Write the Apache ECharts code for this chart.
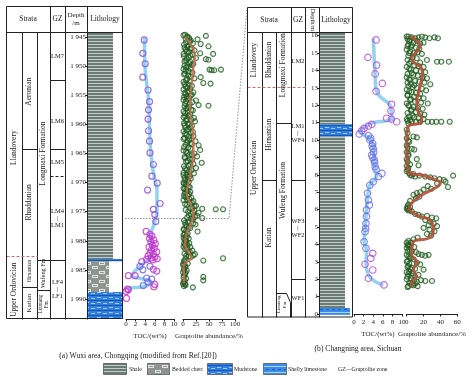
<!DOCTYPE html>
<html>
<head>
<meta charset="utf-8">
<script src="https://cdn.jsdelivr.net/npm/echarts@6/dist/echarts.min.js"></script>
<style>
  html, body { margin: 0; padding: 0; background: #fff; }
  #chart { width: 474px; height: 377px; }
</style>
</head>
<body>
<div id="chart"></div>
<script>
// ---- data: (a) Wuxi, depth in m ----
var depthTicksA = [1945, 1950, 1955, 1960, 1965, 1970, 1975, 1980, 1985, 1990];
var tocA = [
  [3.8,1945.5],[3.5,1947.8],[4.0,1949.6],[3.5,1951.9],[4.6,1954.1],[4.9,1956.1],[4.7,1957.5],
  [4.6,1959.1],[4.7,1961.1],[4.9,1962.9],[5.0,1964.9],[5.7,1966.9],[5.4,1968.9],[6.5,1970.1],
  [4.5,1971.3],[7.1,1973.6],[5.7,1974.6],[6.0,1975.5],[6.2,1976.7],[4.2,1978.4],
  [5.0,1978.9],[5.4,1979.2],[4.9,1979.6],[5.8,1979.9],[5.2,1980.2],[6.1,1980.5],[5.5,1980.8],
  [4.8,1981.1],[5.9,1981.3],[5.3,1981.6],[6.4,1981.9],[5.0,1982.1],[5.7,1982.3],[4.6,1982.6],
  [6.0,1982.8],[5.2,1983.0],[4.3,1983.2],[5.6,1983.3],[6.5,1983.1],[3.3,1983.6],
  [2.9,1984.4],[5.0,1984.4],[5.7,1984.9],[6.4,1985.2],[3.5,1985.0],[0.5,1986.0],[1.9,1986.0],
  [4.3,1986.4],[5.35,1986.6],[4.6,1987.1],[6.0,1987.5],[3.6,1987.7],[5.8,1987.9],[0.3,1988.3],
  [0.5,1988.4],[0.0,1988.7],[0.1,1989.9]
];
var tocTrendA = [
  [3.85,1945.1],[4.0,1950.6],[4.7,1955.8],[4.9,1960.9],[5.2,1965.2],[5.8,1968.7],[6.45,1971.2],
  [6.45,1974.7],[5.8,1977.3],[5.1,1979],[5.35,1981.6],[5.0,1982.9],[2.9,1984.4],[1.2,1986],
  [3.6,1986.6],[5.35,1987.2],[3.5,1987.9],[0.8,1988.1],[0.15,1988.4]
];
var graptA = [
  [4,1944.6],[8,1944.9],[12,1945.2],[28,1945.4],[44,1944.8],[15,1945.6],[6,1945.9],[19,1946.1],
  [34,1946.2],[49,1946.6],[10,1946.5],[3,1946.8],[14,1947.0],[22,1947.3],[7,1947.5],[33,1947.8],
  [58,1947.9],[18,1948.0],[2,1948.3],[11,1948.5],[25,1948.6],[44,1948.8],[49,1948.9],[6,1949.0],
  [15,1949.3],[20,1949.6],[3,1949.9],[9,1950.1],[51,1950.6],[55,1950.7],[60,1950.7],[73,1950.6],
  [14,1950.4],[5,1950.8],[18,1951.1],[2,1951.4],[10,1951.6],[34,1951.9],[22,1952.1],[6,1952.4],
  [13,1952.6],[39,1952.9],[53,1953.0],[3,1953.1],[17,1953.4],[8,1953.7],[1,1954.0],[12,1954.3],
  [20,1954.5],[5,1954.8],[15,1955.0],[2,1955.3],[9,1955.6],[25,1955.9],[18,1956.2],[4,1956.4],
  [30,1956.7],[49,1956.8],[11,1957.0],[6,1957.3],[16,1957.5],[1,1957.8],[9,1958.0],[14,1958.3],
  [4,1958.6],[21,1958.9],[7,1959.1],[23,1959.5],[2,1959.8],[12,1960.0],[17,1960.3],[5,1960.6],
  [10,1960.9],[1,1961.2],[15,1961.5],[7,1961.8],[20,1962.0],[3,1962.3],[12,1962.6],[24,1962.9],
  [8,1963.1],[17,1963.4],[30,1963.6],[2,1963.9],[14,1964.2],[33,1964.4],[6,1964.7],[22,1965.0],
  [11,1965.3],[27,1965.5],[4,1965.8],[18,1966.0],[9,1966.3],[36,1966.6],[14,1966.9],[2,1967.2],
  [25,1967.5],[7,1967.8],[12,1968.1],[21,1968.4],[1,1968.7],[9,1969.0],[15,1969.3],[4,1969.6],
  [11,1969.9],[2,1970.2],[7,1970.5],[13,1970.8],[3,1971.1],[9,1971.4],[5,1971.7],[12,1972.0],
  [2,1972.3],[16,1972.6],[8,1972.9],[20,1973.2],[13,1973.5],[4,1973.7],[25,1974.0],[18,1974.3],
  [37,1974.5],[63,1974.6],[77,1974.6],[22,1974.8],[10,1975.0],[30,1975.2],[15,1975.4],[27,1975.7],
  [8,1976.0],[37,1976.1],[19,1976.3],[12,1976.6],[4,1976.9],[24,1977.2],[7,1977.5],[14,1977.8],
  [2,1978.1],[28,1978.4],[9,1978.7],[1,1979.0],[5,1979.3],[11,1979.6],[3,1979.9],[7,1980.2],
  [2,1980.5],[9,1980.8],[14,1981.1],[4,1981.4],[18,1981.7],[10,1982.0],[23,1982.3],[6,1982.6],
  [15,1982.8],[77,1983.0],[39,1983.4],[3,1983.6],[9,1983.9],[1,1984.2],[5,1984.5],[2,1984.8],
  [7,1985.1],[0,1985.4],[4,1985.7],[39,1986.2],[2,1986.0],[6,1986.5],[39,1986.8],[1,1987.1],
  [4,1987.4],[19,1988.0],[2,1987.8],
  [1,1944.7],[9,1945.0],[5,1945.3],[13,1945.8],[2,1946.3],[8,1946.7],[16,1946.9],[5,1947.2],
  [11,1947.6],[1,1947.9],[14,1948.2],[7,1948.7],[3,1949.2],[12,1949.5],[17,1949.8],[6,1950.2],
  [1,1950.5],[11,1950.9],[4,1951.3],[15,1951.8],[8,1952.2],[1,1952.7],[11,1953.2],[5,1953.5],
  [14,1953.9],[9,1954.4],[3,1954.6],[17,1954.9],[7,1955.2],[12,1955.5],[1,1955.8],[6,1956.0],
  [13,1956.5],[3,1956.9],[9,1957.2],[19,1957.6],[4,1958.1],[11,1958.5],[1,1958.8],[16,1959.2],
  [6,1959.4],[9,1959.9],[3,1960.2],[14,1960.5],[7,1961.0],[19,1961.3],[4,1961.6],[11,1962.1],
  [1,1962.5],[9,1962.8],[15,1963.2],[5,1963.5],[10,1964.0],[1,1964.5],[8,1964.9],[17,1965.2],
  [3,1965.6],[13,1965.9],[6,1966.4],[20,1966.8],[10,1967.1],[4,1967.6],[16,1967.9],[1,1968.3],
  [7,1968.6],[13,1968.9],[3,1969.2],[9,1969.5],[1,1970.0],[5,1970.3],[11,1970.7],[1,1971.0],
  [6,1971.3],[14,1971.6],[3,1971.9],[9,1972.2],[5,1972.5],[12,1972.8],[1,1973.0],[17,1973.4],
  [8,1973.8],[22,1974.1],[14,1974.4],[5,1974.7],[19,1975.1],[11,1975.6],[23,1975.9],[16,1976.2],
  [2,1976.5],[9,1976.8],[20,1977.0],[5,1977.3],[11,1977.7],[1,1978.0],[6,1978.3],[3,1978.9],
  [8,1979.2],[1,1979.5],[6,1980.0],[12,1980.4],[4,1980.7],[1,1981.0],[8,1981.3],[13,1981.9],
  [3,1982.2],[20,1982.5],[11,1982.7],[5,1983.1],[2,1983.4],[0,1984.0],[4,1984.3],[2,1985.0],
  [5,1985.5],[1,1986.3],[3,1986.9],[0,1987.4],[5,1987.6]
];
var graptTrendA = [
  [4,1944.9],[17,1946.6],[23,1948.3],[20,1950.3],[17,1952.9],[13.5,1955.8],[15,1958.7],[20,1962.7],
  [20,1965.5],[17,1967.2],[12,1969.5],[7,1971.8],[13.5,1973.5],[20,1975.3],[17,1976.7],[7,1978.7],
  [4,1980.7],[10,1981.8],[17,1983],[7,1983.6],[1,1984.4],[2,1985.6],[2,1987.3]
];

// ---- data: (b) Changning, height in m ----
var depthTicksB = [0, 1, 2, 3, 4, 5, 6, 7, 8, 9, 10, 11, 12, 13, 14, 15, 16];
var tocB = [
  [4.6,15.75],[2.9,14.75],[4.7,14.3],[4.4,13.8],[5.9,13.25],[4.6,12.8],[7.8,12.05],[7.7,11.67],
  [6.8,11.25],[7.8,11.2],[8.9,11.05],[3.7,10.9],[3.0,10.8],[2.1,10.67],[1.6,10.53],[1.1,10.34],
  [3.0,10.25],[3.5,10.1],[3.3,10.0],[3.9,9.8],[3.8,9.65],[4.0,9.5],[4.1,9.3],[3.7,9.14],[3.9,9.0],
  [4.2,8.85],[4.3,8.7],[4.4,8.47],[4.6,8.3],[5.8,8.08],[5.1,7.9],[4.0,7.6],[3.3,7.4],[2.8,6.94],
  [3.0,6.55],[3.2,6.26],[2.6,5.98],[2.6,5.6],[2.5,5.2],[2.4,4.92],[2.3,4.73],[2.1,4.15],[2.5,3.78],
  [3.9,3.49],[3.5,3.2],[2.3,2.86],[3.9,2.53],[3.0,2.05],[6.25,1.67]
];
var tocTrendB = [
  [4.0,15.84],[4.2,14.8],[4.4,13.7],[4.6,12.9],[5.4,12.5],[7.5,12.0],[7.8,11.5],[8.0,11.2],
  [6.8,11.1],[4.0,11.0],[2.3,10.76],[1.4,10.48],[2.0,10.29],[3.3,10.1],[4.0,9.6],[4.2,8.66],
  [4.7,7.9],[3.5,7.5],[3.0,7.13],[2.6,5.98],[2.3,4.83],[2.1,4.16],[2.6,3.68],[2.5,2.91],
  [3.0,2.24],[4.4,1.86],[6.1,1.67]
];
var graptB = [
  [2,15.95],[6,15.9],[10,15.85],[14,15.9],[18,15.95],[22,15.9],[27,15.85],[33,15.9],[37,15.85],
  [3,15.7],[8,15.6],[12,15.7],[16,15.55],[20,15.6],[1,15.4],[5,15.35],[11,15.3],[15,15.25],[4,15.1],
  [9,15.0],[13,15.05],[18,14.95],[2,14.85],[7,14.75],[12,14.7],[24,14.6],[36,14.5],[41,14.5],
  [50,14.5],[16,14.45],[3,14.4],[9,14.3],[14,14.25],[20,14.2],[5,14.05],[11,14.0],[17,13.95],
  [22,13.9],[1,13.8],[8,13.75],[13,13.7],[19,13.6],[24,13.55],[4,13.45],[10,13.4],[15,13.35],
  [21,13.3],[28,13.2],[2,13.1],[7,13.05],[12,13.0],[18,12.95],[23,12.85],[6,12.75],[11,12.7],
  [16,12.65],[1,12.55],[9,12.5],[14,12.45],[20,12.4],[4,12.3],[10,12.2],[17,12.15],[25,12.1],
  [2,12.0],[8,11.9],[13,11.85],[19,11.8],[5,11.7],[11,11.6],[16,11.5],[21,11.45],[3,11.35],
  [9,11.3],[14,11.25],[20,11.2],[1,11.1],[6,11.05],[11,11.05],[16,11.05],[25,11.05],[30,11.05],
  [35,11.05],[41,11.05],[51,11.05],[8,10.2],[12,10.15],[3,9.9],[6,9.5],[9,9.45],[2,9.2],[12,8.9],
  [4,8.6],[14,8.55],[1,8.3],[3,8.1],[6,7.95],[10,7.9],[15,7.95],[22,7.9],[28,7.85],[33,7.8],
  [39,7.75],[44,7.7],[55,7.95],[61,7.55],[46,7.6],[36,7.5],[49,7.3],[25,7.35],[29,7.2],[20,7.15],
  [16,7.0],[12,6.95],[8,6.85],[15,6.75],[11,6.65],[4,6.5],[2,6.3],[1,6.1],[3,6.0],[6,5.9],
  [10,5.75],[14,5.7],[18,5.6],[24,5.65],[30,5.55],[35,5.5],[22,5.4],[28,5.3],[32,5.2],[26,5.1],
  [36,5.05],[20,4.95],[27,4.85],[33,4.75],[24,4.6],[29,4.5],[13,4.4],[8,4.3],[2,4.2],[5,4.1],
  [1,3.95],[9,3.85],[3,3.7],[6,3.6],[11,3.55],[14,3.45],[18,3.4],[22,3.35],[26,3.4],[4,3.25],
  [8,3.15],[1,3.05],[12,2.95],[16,2.85],[2,2.75],[6,2.65],[10,2.6],[20,2.55],[3,2.45],[7,2.35],
  [14,2.25],[1,2.15],[5,2.05],[9,1.95],[17,1.95],[22,1.9],[30,1.9],[12,1.85],[4,1.75],[8,1.65],
  [2,1.6],
  [0,15.95],[1,15.8],[4,15.75],[2,15.5],[6,15.45],[0,15.2],[3,15.0],[1,14.6],[5,14.5],[0,14.2],
  [3,14.1],[6,13.85],[0,13.6],[3,13.5],[1,13.3],[5,13.2],[9,13.15],[0,12.9],[3,12.8],[1,12.6],
  [5,12.35],[0,12.1],[3,11.95],[6,11.75],[1,11.55],[7,11.4],[0,11.2],[4,11.15],[2,10.95],[0,10.6],
  [1,10.4],[0,10.1],[2,9.95],[0,9.7],[1,9.55],[0,9.3],[2,9.1],[0,8.9],[1,8.75],[0,8.5],[2,8.4],
  [0,8.2],[4,8.0],[8,8.05],[1,6.2],[0,6.05],[2,5.95],[4,6.15],[0,4.1],[2,4.0],[0,3.8],[3,3.9],
  [1,3.6],[0,3.4],[2,3.3],[5,3.2],[0,3.0],[3,2.9],[1,2.7],[4,2.6],[0,2.4],[2,2.3],[6,2.2],[0,2.0],
  [3,1.8],[1,1.55],[6,1.7],[10,1.75],[13,1.6]
];
var graptTrendB = [
  [3.9,15.94],[7.9,15.85],[15.8,15.44],[13.8,15.17],[9.8,14.98],[5.9,14.7],[9.9,14.4],[16.6,14.2],
  [19,13.8],[16.6,13.25],[13.8,12.7],[11.9,12.3],[13.8,11.6],[17.8,11.25],[15.8,10.96],[3.9,10.86],
  [0.5,10.57],[0,9.8],[0.3,9.04],[0.5,8.47],[3.9,8.08],[17.8,7.99],[29.6,7.8],[40,7.55],
  [11.9,6.65],[3.1,6.07],[11.9,5.69],[27.6,5.4],[31.6,4.83],[25.6,4.35],[7.9,4.15],[5.9,3.39],
  [11.9,3.0],[7.9,2.53],[11.9,2.14],[7.9,1.95],[4.7,1.57]
];

// ---- column layout (table x units are px from table left; y in depth) ----
var topA = 1944.14, botA = 1993.44;
var topB = 16.207, botB = -0.172;
var linesA = [
  [16,topA,16,botA,'s'],[31,topA,31,botA,'s'],[44,topA,44,botA,'s'],[59,topA,59,botA,'s'],[81,topA,81,botA,'s'],
  [16,1964.24,31,1964.24,'s'],[16,1987.9,31,1987.9,'s'],
  [31,1983.3,44,1983.3,'s'],[31,1988.45,44,1988.45,'s'],
  [44,1952.4,59,1952.4,'s'],[44,1964.24,59,1964.24,'s'],[44,1968.9,59,1968.9,'d'],[44,1983.3,59,1983.3,'s'],
  [0,1982.6,31,1982.6,'r']
];
var labelsA = [
  [8,1964,'Llandovery',90,7.5],[8,1988.4,'Upper Ordovician',90,7.5],
  [23.5,1954.4,'Aeronian',90,7.5],[23.5,1973.4,'Rhuddanian',90,7.5],
  [23.5,1985.2,'Hirnantian',90,5.2],[23.5,1990.7,'Katian',90,7],
  [37.5,1965,'Longmaxi Formation',90,7.5],[37.5,1985.6,'Wufeng Fm',90,6.2],
  [37.5,1990.9,'Linxiang\nFm.',90,5.2],
  [51.5,1948.3,'LM7',0,6.5],[51.5,1959.5,'LM6',0,6.5],[51.5,1966.5,'LM5',0,6.5],
  [51.5,1976.1,'LM4\n|\nLM1',0,6.5],[51.5,1988.4,'LF4\n|\nLF1',0,6.5]
];
var lithA = [[topA,1983.15,26,'shale'],[1983.15,1983.5,36,'mud'],[1983.5,1988.8,22,'chert'],[1988.8,botA,36,'mud']];

var linesB = [
  [15,topB,15,botB,'s'],[29,topB,29,botB,'s'],[44,topB,44,botB,'s'],[58,topB,58,botB,'s'],[72,topB,72,botB,'s'],
  [15,7.70,29,7.70,'s'],[29,10.98,44,10.98,'s'],
  [29,1.21,39,1.21,'s'],[39,1.21,43,0.7,'s'],[43,0.7,43,botB,'s'],
  [44,7.70,58,7.70,'s'],[44,2.01,58,2.01,'s'],
  [0,13.05,58,13.05,'r']
];
var labelsB = [
  [7.5,14.6,'Llandovery',90,7.5],[7.5,8.4,'Upper Ordovician',90,7.5],
  [22,14.6,'Rhuddanian',90,7.5],[22,10.3,'Hirnantian',90,7.5],[22,4.4,'Katian',90,7.5],
  [36.5,14.3,'Longmaxi Formation',90,7.5],[36.5,7.1,'Wufeng Formation',90,7.5],
  [34.5,0.55,'Linxiang\nFm.',90,5],
  [51,14.5,'LM2',0,6.5],[51,10.4,'LM1\n|\nWF4',0,6.5],[51,4.9,'WF3\n|\nWF2',0,6.5],[51,0.9,'WF1',0,6.5]
];
var lithB = [[topB,10.9,26,'shale'],[10.9,10.2,34,'mud'],[10.2,0.35,26,'shale'],[0.35,-0.05,31,'lime']];

var ink = '#222';
var serif = 'Liberation Serif';

function makePattern(w, h, draw) {
  var c = document.createElement('canvas');
  c.width = w; c.height = h;
  draw(c.getContext('2d'));
  return { image: c, repeat: 'repeat' };
}
var pats = {
  shale: makePattern(4, 3, function (g) {
    g.fillStyle = '#6a7c76'; g.fillRect(0, 0, 4, 3);
    g.fillStyle = '#c3ccc8'; g.fillRect(0, 2, 4, 1);
  }),
  chert: makePattern(14, 9, function (g) {
    g.fillStyle = '#8e9591'; g.fillRect(0, 0, 14, 9);
    g.strokeStyle = '#e2e6e3'; g.lineWidth = 1;
    g.strokeRect(1.5, 1.5, 5, 2); g.strokeRect(8.5, 5.5, 5, 2);
  }),
  mud: makePattern(12, 5, function (g) {
    g.fillStyle = '#2f7fe0'; g.fillRect(0, 0, 12, 5);
    g.fillStyle = '#1b56b0'; g.fillRect(0, 0, 12, 1);
    g.fillStyle = '#9cc8f6'; g.fillRect(1, 2, 4, 1); g.fillRect(7, 3, 4, 1);
  }),
  lime: makePattern(12, 6, function (g) {
    g.fillStyle = '#3b8be8'; g.fillRect(0, 0, 12, 6);
    g.fillStyle = '#a9d0f7'; g.fillRect(0, 0, 12, 1);
    g.fillStyle = '#1f5fb5'; g.fillRect(2, 3, 3, 1); g.fillRect(8, 3, 3, 1);
  })
};

function linesSeries(list, xi, yi) {
  return {
    type: 'custom', xAxisIndex: xi, yAxisIndex: yi, silent: true, z: 5,
    data: list.map(function (s) { return [s[0], s[1]]; }),
    renderItem: function (params, api) {
      var s = list[params.dataIndex];
      var a = api.coord([s[0], s[1]]), b = api.coord([s[2], s[3]]);
      var k = s[4];
      return {
        type: 'line',
        shape: { x1: Math.round(a[0]) + 0.5, y1: Math.round(a[1]) + 0.5, x2: Math.round(b[0]) + 0.5, y2: Math.round(b[1]) + 0.5 },
        style: { stroke: k === 'r' ? '#d66a6a' : ink, lineWidth: 1, lineDash: k === 's' ? null : [3, 2] }
      };
    }
  };
}
function labelSeries(list, xi, yi) {
  return {
    type: 'custom', xAxisIndex: xi, yAxisIndex: yi, silent: true, z: 6,
    data: list.map(function (s) { return [s[0], s[1]]; }),
    renderItem: function (params, api) {
      var s = list[params.dataIndex];
      var p = api.coord([s[0], s[1]]);
      return {
        type: 'text', x: p[0], y: p[1], rotation: s[3] * Math.PI / 180,
        style: { text: s[2], fill: ink, fontSize: s[4], fontFamily: serif, align: 'center', verticalAlign: 'middle', lineHeight: s[4] + 0.5 }
      };
    }
  };
}
function lithSeries(list, xi, yi) {
  return {
    type: 'custom', xAxisIndex: xi, yAxisIndex: yi, silent: true, z: 2,
    data: list.map(function (r) { return [0, r[0]]; }),
    renderItem: function (params, api) {
      var r = list[params.dataIndex];
      var p0 = api.coord([0, r[0]]), p1 = api.coord([r[2], r[1]]);
      return {
        type: 'rect',
        shape: { x: p0[0], y: Math.min(p0[1], p1[1]), width: p1[0] - p0[0], height: Math.abs(p1[1] - p0[1]) },
        style: { fill: pats[r[3]] }
      };
    }
  };
}

function hiddenX(max) { return { type: 'value', min: 0, max: max, show: false }; }
function hiddenY(min, max, inv) { return { type: 'value', min: min, max: max, inverse: inv, show: false }; }
function depthAxis(min, max, inv, ticks, fmt) {
  return {
    type: 'value', min: min, max: max, inverse: inv,
    axisLine: { show: false },
    axisTick: { show: true, length: 2, lineStyle: { color: ink, width: 1 }, customValues: ticks },
    axisLabel: { margin: 1, fontSize: 7, fontFamily: serif, color: ink, customValues: ticks, formatter: fmt },
    splitLine: { show: false }
  };
}
function valueAxis(max, interval, name) {
  return {
    type: 'value', min: 0, max: max, interval: interval,
    name: name, nameLocation: 'middle', nameGap: 11,
    nameTextStyle: { fontSize: 7, fontFamily: serif, color: ink },
    axisLine: { show: true, lineStyle: { color: ink, width: 1 } },
    axisTick: { show: true, length: 2.5, lineStyle: { color: ink } },
    axisLabel: { margin: 2, fontSize: 7, fontFamily: serif, color: ink },
    splitLine: { show: false }
  };
}

function tocColorA(v, d) {
  if (d < 1977) return '#8c48d8';
  if (d > 1984 && v > 2.5 && v < 5.5) return '#6b5fe3';
  return '#c233cc';
}
function tocColorB(v, d) { return (d > 3.6 && d < 10.4) ? '#6c6ae6' : '#b24ad8'; }

function tocScatter(list, idx, colorFn, size) {
  return {
    type: 'scatter', xAxisIndex: idx, yAxisIndex: idx, z: 4, symbol: 'circle', symbolSize: size,
    data: list.map(function (p) {
      return { value: p, itemStyle: { color: 'rgba(255,255,255,0)', borderColor: colorFn(p[0], p[1]), borderWidth: 1.2 } };
    })
  };
}
function graptScatter(list, idx) {
  return {
    type: 'scatter', xAxisIndex: idx, yAxisIndex: idx, z: 3, symbol: 'circle', symbolSize: 5,
    itemStyle: { color: 'rgba(25,80,25,0.1)', borderColor: '#1e5a1e', borderWidth: 1.1 },
    data: list
  };
}
function trendLine(list, idx, color, width, z) {
  return {
    type: 'line', xAxisIndex: idx, yAxisIndex: idx, z: z, showSymbol: false, smooth: 0.35,
    lineStyle: { color: color, width: width }, data: list
  };
}

function gLine(x1, y1, x2, y2, extra) {
  var o = { type: 'line', silent: true, z: 10, shape: { x1: x1, y1: y1, x2: x2, y2: y2 }, style: { stroke: ink, lineWidth: 1 } };
  if (extra) for (var k in extra) o.style[k] = extra[k];
  return o;
}
function gText(x, y, text, size, extra) {
  var o = { type: 'text', silent: true, z: 10, x: x, y: y,
    style: { text: text, fontSize: size, fontFamily: serif, fill: ink, align: 'center', verticalAlign: 'middle', lineHeight: size + 1 } };
  if (extra) for (var k in extra) { if (k === 'rotation') o.rotation = extra[k]; else o.style[k] = extra[k]; }
  return o;
}
function gBox(x, y, w, h, fill) {
  return { type: 'rect', silent: true, z: 10, shape: { x: x + 0.5, y: y + 0.5, width: w, height: h }, style: { fill: fill, stroke: '#555', lineWidth: 0.8 } };
}

var graphics = [
  // table (a) frame and header
  { type: 'rect', silent: true, z: 10, shape: { x: 6.5, y: 6.5, width: 116, height: 312 }, style: { fill: 'none', stroke: ink, lineWidth: 1 } },
  gLine(6, 32.5, 123, 32.5), gLine(50.5, 6, 50.5, 32), gLine(65.5, 6, 65.5, 32), gLine(87.5, 6, 87.5, 32),
  gText(28, 19, 'Strata', 7.5), gText(57.5, 19, 'GZ', 7.5), gText(76, 19, 'Depth\n/m', 7), gText(105, 19, 'Lithology', 7.5),
  // table (b) frame and header
  { type: 'rect', silent: true, z: 10, shape: { x: 247.5, y: 7.5, width: 105, height: 309.5 }, style: { fill: 'none', stroke: ink, lineWidth: 1 } },
  gLine(247, 32.5, 353, 32.5), gLine(291.5, 7, 291.5, 32), gLine(305.5, 7, 305.5, 32), gLine(319.5, 7, 319.5, 32),
  gText(269, 20, 'Strata', 7.5), gText(298, 20, 'GZ', 7.5), gText(312.5, 20, 'Depth/m', 6.5, { rotation: -Math.PI / 2 }),
  gText(336, 20, 'Lithology', 7.5),
  // connection between (a) and (b)
  { type: 'polyline', silent: true, z: 9, shape: { points: [[125, 218.5], [229, 218.5], [247, 8]] },
    style: { fill: 'none', stroke: '#777', lineWidth: 0.8, lineDash: [1.5, 1.5] } },
  // captions
  gText(138, 356, '(a) Wuxi area, Chongqing (modified from Ref.[20])', 7.6),
  gText(358, 348.5, '(b) Changning area, Sichuan', 7.6),
  // legend
  gBox(103, 363, 23, 11, pats.shale), gText(129, 369, 'Shale', 5.8, { align: 'left' }),
  gBox(147, 363, 22, 11, pats.chert), gText(172, 369, 'Bedded chert', 5.8, { align: 'left' }),
  gBox(207, 363, 25, 11, pats.mud), gText(234, 369, 'Mudstone', 5.8, { align: 'left' }),
  gBox(263, 363, 23, 11, pats.lime), gText(288, 369, 'Shelly limestone', 5.8, { align: 'left' }),
  gText(338, 369, 'GZ\u2014Graptolite zone', 5.8, { align: 'left' })
];

var option = {
  animation: false,
  backgroundColor: '#fff',
  grid: [
    { left: 6, top: 32, width: 117, height: 287 },
    { left: 87, top: 32, width: 36, height: 287 },
    { left: 126, top: 32, width: 48, height: 287 },
    { left: 183, top: 32, width: 52, height: 287 },
    { left: 247, top: 32, width: 106, height: 285 },
    { left: 319, top: 32, width: 34, height: 285 },
    { left: 354, top: 32, width: 48, height: 285 },
    { left: 406.7, top: 32, width: 50.6, height: 285 }
  ],
  xAxis: [
    Object.assign(hiddenX(117), { gridIndex: 0 }),
    Object.assign(hiddenX(36), { gridIndex: 1 }),
    Object.assign(valueAxis(10, 2, 'TOC/(wt%)'), { gridIndex: 2 }),
    Object.assign(valueAxis(100, 25, 'Graptolite abundance/%'), { gridIndex: 3 }),
    Object.assign(hiddenX(106), { gridIndex: 4 }),
    Object.assign(hiddenX(34), { gridIndex: 5 }),
    Object.assign(valueAxis(10, 2, 'TOC/(wt%)'), { gridIndex: 6 }),
    Object.assign(valueAxis(60, 20, 'Graptolite abundance/%'), { gridIndex: 7 })
  ],
  yAxis: [
    Object.assign(hiddenY(topA, botA, true), { gridIndex: 0 }),
    Object.assign(depthAxis(topA, botA, true, depthTicksA, function (v) { var s = String(Math.round(v)); return s.charAt(0) + ' ' + s.slice(1); }), { gridIndex: 1 }),
    Object.assign(hiddenY(topA, botA, true), { gridIndex: 2 }),
    Object.assign(hiddenY(topA, botA, true), { gridIndex: 3 }),
    Object.assign(hiddenY(botB, topB, false), { gridIndex: 4 }),
    Object.assign(depthAxis(botB, topB, false, depthTicksB, function (v) { return String(Math.round(v)); }), { gridIndex: 5 }),
    Object.assign(hiddenY(botB, topB, false), { gridIndex: 6 }),
    Object.assign(hiddenY(botB, topB, false), { gridIndex: 7 })
  ],
  series: [
    linesSeries(linesA, 0, 0), labelSeries(labelsA, 0, 0), lithSeries(lithA, 1, 1),
    trendLine(tocTrendA, 2, '#92d3f0', 3.5, 2), tocScatter(tocA, 2, tocColorA, 6),
    graptScatter(graptA, 3), trendLine(graptTrendA, 3, 'rgba(205,110,80,0.85)', 2.2, 5),
    linesSeries(linesB, 4, 4), labelSeries(labelsB, 4, 4), lithSeries(lithB, 5, 5),
    trendLine(tocTrendB, 6, '#92d3f0', 3.5, 2), tocScatter(tocB, 6, tocColorB, 6.5),
    graptScatter(graptB, 7), trendLine(graptTrendB, 7, 'rgba(180,80,55,0.9)', 3, 5)
  ],
  graphic: graphics
};

var chart = echarts.init(document.getElementById('chart'));
chart.setOption(option);
</script>
</body>
</html>
